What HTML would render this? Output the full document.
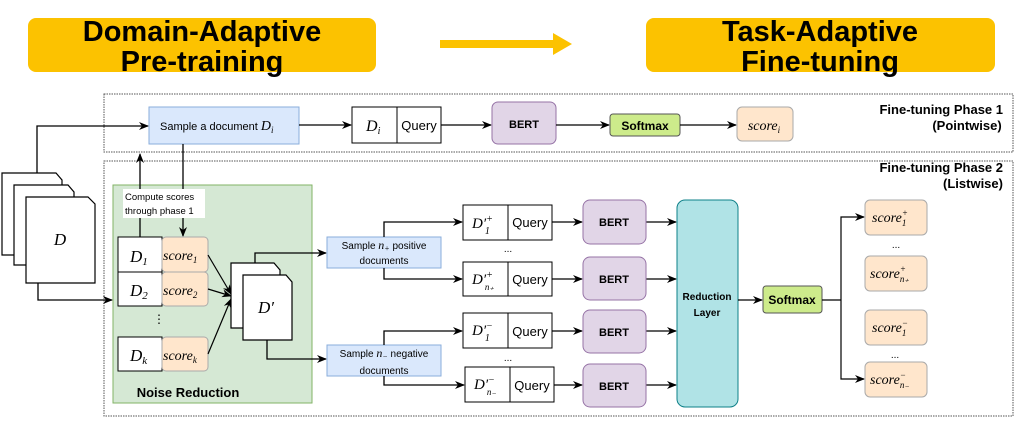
<!DOCTYPE html>
<html><head><meta charset="utf-8"><style>
html,body{margin:0;padding:0;background:#fff;}
svg{display:block;}
.s{font-family:"Liberation Sans",sans-serif;}
.n{font-family:"Liberation Sans Narrow","Liberation Sans",sans-serif;}
.m{font-family:"Liberation Serif",serif;font-style:italic;}
</style></head><body>
<svg width="1016" height="423" viewBox="0 0 1016 423" xmlns="http://www.w3.org/2000/svg">
<defs>
<marker id="a" markerWidth="10" markerHeight="8" refX="9" refY="4" orient="auto" markerUnits="userSpaceOnUse"><path d="M0,0 L10,4 L0,8 L3,4 z" fill="#000"/></marker>
</defs>
<!-- title banners -->
<rect x="28" y="18" width="348" height="54" rx="8" fill="#fcc200"/>
<text x="202" y="41" class="n" font-size="29" font-weight="bold" text-anchor="middle">Domain-Adaptive</text>
<text x="202" y="71" class="n" font-size="29" font-weight="bold" text-anchor="middle">Pre-training</text>
<rect x="646" y="18" width="349" height="54" rx="8" fill="#fcc200"/>
<text x="820" y="41" class="n" font-size="29" font-weight="bold" text-anchor="middle">Task-Adaptive</text>
<text x="820" y="71" class="n" font-size="29" font-weight="bold" text-anchor="middle">Fine-tuning</text>
<path d="M440,40 H553 V33 L572,44 L553,55 V48 H440 z" fill="#fcc200"/>

<!-- phase boxes -->
<rect x="104" y="94" width="909" height="58" fill="none" stroke="#555" stroke-dasharray="1.5,1"/>
<rect x="104" y="161" width="909" height="255" fill="none" stroke="#555" stroke-dasharray="1.5,1"/>
<text x="1003" y="114" class="n" font-size="13" font-weight="bold" text-anchor="end">Fine-tuning Phase 1</text>
<text x="967" y="130" class="n" font-size="13" font-weight="bold" text-anchor="middle">(Pointwise)</text>
<text x="1003" y="172" class="n" font-size="13" font-weight="bold" text-anchor="end">Fine-tuning Phase 2</text>
<text x="973" y="188" class="n" font-size="13" font-weight="bold" text-anchor="middle">(Listwise)</text>

<!-- phase 1 row -->
<rect x="149" y="107" width="150" height="37" fill="#dae8fc" stroke="#8aaedb"/>
<text x="160" y="130" class="s" font-size="11">Sample a document <tspan class="m" font-size="14">D<tspan font-size="9" dy="3">i</tspan></tspan></text>
<line x1="299" y1="125" x2="351" y2="125" stroke="#000" stroke-width="1.3" marker-end="url(#a)"/>
<rect x="352" y="107" width="45" height="36" fill="#fff" stroke="#000"/>
<rect x="397" y="107" width="44" height="36" fill="#fff" stroke="#000"/>
<text x="366" y="131" class="m" font-size="16">D<tspan font-size="10" dy="3">i</tspan></text>
<text x="419" y="130" class="s" font-size="13" text-anchor="middle">Query</text>
<line x1="441" y1="125" x2="491" y2="125" stroke="#000" stroke-width="1.3" marker-end="url(#a)"/>
<rect x="492" y="102" width="64" height="42" rx="6" fill="#e1d5e7" stroke="#9673a6"/>
<text x="524" y="128" class="s" font-size="11" font-weight="bold" text-anchor="middle">BERT</text>
<line x1="556" y1="125" x2="609" y2="125" stroke="#000" stroke-width="1.3" marker-end="url(#a)"/>
<rect x="610" y="114" width="70" height="22" rx="3" fill="#cdeb8b" stroke="#555"/>
<text x="645" y="130" class="s" font-size="12" font-weight="bold" text-anchor="middle">Softmax</text>
<line x1="680" y1="125" x2="736" y2="125" stroke="#000" stroke-width="1.3" marker-end="url(#a)"/>
<rect x="737" y="107" width="56" height="34" rx="5" fill="#ffe6cc" stroke="#aaa"/>
<text x="764" y="130" class="m" font-size="14" text-anchor="middle">score<tspan font-size="9" dy="3">i</tspan></text>

<!-- noise reduction -->
<rect x="113" y="185" width="199" height="218" fill="#d5e8d4" stroke="#82b366"/>
<text x="188" y="397" class="s" font-size="13" font-weight="bold" text-anchor="middle">Noise Reduction</text>

<!-- D stack -->
<g fill="#fff" stroke="#000" stroke-width="1.2">
<path d="M2,173 H56 L62,180 V255 H2 z"/>
<path d="M14,185 H68 L74,192 V265 H14 z"/>
<path d="M26,197 H88 L95,204 V283 H26 z"/>
</g>
<text x="60" y="245" class="m" font-size="17" text-anchor="middle">D</text>
<polyline points="37,173 37,126 148,126" fill="none" stroke="#000" stroke-width="1.3" marker-end="url(#a)"/>
<polyline points="38,283 38,300 112,300" fill="none" stroke="#000" stroke-width="1.3" marker-end="url(#a)"/>
<line x1="140" y1="237" x2="140" y2="154" stroke="#000" stroke-width="1.3" marker-end="url(#a)"/>
<line x1="183" y1="144" x2="183" y2="236" stroke="#000" stroke-width="1.3" marker-end="url(#a)"/>
<rect x="123" y="189" width="82" height="29" fill="#fff"/>
<text x="125" y="200" class="s" font-size="9.5">Compute scores</text>
<text x="125" y="214" class="s" font-size="9.5">through phase 1</text>

<g stroke="#000" stroke-width="1">
<rect x="118" y="237" width="44" height="35" fill="#fff"/>
<rect x="118" y="272" width="44" height="34" fill="#fff"/>
<rect x="118" y="337" width="44" height="34" fill="#fff"/>
</g>
<g fill="#ffe6cc" stroke="#aaa">
<rect x="162" y="237" width="46" height="35" rx="4"/>
<rect x="162" y="272" width="46" height="34" rx="4"/>
<rect x="162" y="337" width="46" height="34" rx="4"/>
</g>
<text x="130" y="262" class="m" font-size="17">D<tspan font-size="11" dy="3">1</tspan></text>
<text x="130" y="296" class="m" font-size="17">D<tspan font-size="11" dy="3">2</tspan></text>
<text x="130" y="361" class="m" font-size="17">D<tspan font-size="11" dy="3">k</tspan></text>
<text x="163" y="260" class="m" font-size="14">score<tspan font-size="9" dy="3">1</tspan></text>
<text x="163" y="295" class="m" font-size="14">score<tspan font-size="9" dy="3">2</tspan></text>
<text x="163" y="360" class="m" font-size="14">score<tspan font-size="9" dy="3">k</tspan></text>
<text x="159" y="323" class="s" font-size="12" text-anchor="middle">⋮</text>
<g stroke="#000" stroke-width="1.2" marker-end="url(#a)">
<line x1="208" y1="255" x2="231" y2="294"/>
<line x1="208" y1="289" x2="231" y2="296"/>
<line x1="208" y1="354" x2="231" y2="299"/>
</g>
<g fill="#fff" stroke="#000" stroke-width="1.2">
<path d="M231,263 H274 L280,270 V328 H231 z"/>
<path d="M243,275 H286 L292,282 V340 H243 z"/>
</g>
<text x="266" y="313" class="m" font-size="17" text-anchor="middle">D′</text>
<polyline points="255,263 255,253 326,253" fill="none" stroke="#000" stroke-width="1.3" marker-end="url(#a)"/>
<polyline points="267,340 267,359 326,359" fill="none" stroke="#000" stroke-width="1.3" marker-end="url(#a)"/>

<!-- sample boxes -->
<rect x="327" y="237" width="114" height="31" fill="#dae8fc" stroke="#8aaedb"/>
<text x="384" y="249" class="s" font-size="10" text-anchor="middle">Sample <tspan class="m" font-size="12">n<tspan font-size="8" dy="2">+</tspan></tspan><tspan dy="-2"> positive</tspan></text>
<text x="384" y="264" class="s" font-size="10" text-anchor="middle">documents</text>
<rect x="327" y="345" width="114" height="31" fill="#dae8fc" stroke="#8aaedb"/>
<text x="384" y="357" class="s" font-size="10" text-anchor="middle">Sample <tspan class="m" font-size="12">n<tspan font-size="8" dy="2">−</tspan></tspan><tspan dy="-2"> negative</tspan></text>
<text x="384" y="374" class="s" font-size="10" text-anchor="middle">documents</text>
<g fill="none" stroke="#000" stroke-width="1.3" marker-end="url(#a)">
<polyline points="384,237 384,222 462,222"/>
<polyline points="384,268 384,279 462,279"/>
<polyline points="384,345 384,331 462,331"/>
<polyline points="384,376 384,385 464,385"/>
</g>

<!-- doc/query pairs -->
<g stroke="#000" fill="#fff">
<rect x="463" y="205" width="45" height="35"/><rect x="508" y="205" width="44" height="35"/>
<rect x="463" y="262" width="45" height="34"/><rect x="508" y="262" width="44" height="34"/>
<rect x="463" y="313" width="45" height="35"/><rect x="508" y="313" width="44" height="35"/>
<rect x="465" y="367" width="45" height="35"/><rect x="510" y="367" width="44" height="35"/>
</g>
<text x="472" y="228" class="m" font-size="15">D′<tspan font-size="10" dy="-6">+</tspan><tspan font-size="10" dx="-8" dy="12">1</tspan></text>
<text x="472" y="284" class="m" font-size="15">D′<tspan font-size="10" dy="-6">+</tspan><tspan font-size="9" dx="-8" dy="12">n₊</tspan></text>
<text x="472" y="335" class="m" font-size="15">D′<tspan font-size="10" dy="-6">−</tspan><tspan font-size="10" dx="-8" dy="12">1</tspan></text>
<text x="474" y="389" class="m" font-size="15">D′<tspan font-size="10" dy="-6">−</tspan><tspan font-size="9" dx="-8" dy="12">n₋</tspan></text>
<g class="s" font-size="13" text-anchor="middle">
<text x="530" y="227">Query</text><text x="530" y="284">Query</text>
<text x="530" y="336">Query</text><text x="532" y="390">Query</text>
</g>
<text x="508" y="252" class="s" font-size="10" text-anchor="middle">...</text>
<text x="508" y="361" class="s" font-size="10" text-anchor="middle">...</text>
<g stroke="#000" stroke-width="1.3" marker-end="url(#a)">
<line x1="552" y1="222" x2="582" y2="222"/><line x1="552" y1="279" x2="582" y2="279"/>
<line x1="552" y1="331" x2="582" y2="331"/><line x1="554" y1="385" x2="582" y2="385"/>
<line x1="646" y1="222" x2="676" y2="222"/><line x1="646" y1="279" x2="676" y2="279"/>
<line x1="646" y1="331" x2="676" y2="331"/><line x1="646" y1="385" x2="676" y2="385"/>
</g>
<g fill="#e1d5e7" stroke="#9673a6">
<rect x="583" y="200" width="63" height="44" rx="7"/><rect x="583" y="257" width="63" height="43" rx="7"/>
<rect x="583" y="310" width="63" height="43" rx="7"/><rect x="583" y="364" width="63" height="43" rx="7"/>
</g>
<g class="s" font-size="11" font-weight="bold" text-anchor="middle">
<text x="614" y="226">BERT</text><text x="614" y="283">BERT</text>
<text x="614" y="336">BERT</text><text x="614" y="390">BERT</text>
</g>

<!-- reduction layer -->
<rect x="677" y="200" width="61" height="207" rx="8" fill="#b0e3e6" stroke="#0e8088"/>
<text x="707" y="300" class="s" font-size="10" font-weight="bold" text-anchor="middle">Reduction</text>
<text x="707" y="316" class="s" font-size="10" font-weight="bold" text-anchor="middle">Layer</text>
<line x1="738" y1="300" x2="762" y2="300" stroke="#000" stroke-width="1.3" marker-end="url(#a)"/>
<rect x="763" y="286" width="59" height="27" rx="3" fill="#cdeb8b" stroke="#555"/>
<text x="792" y="304" class="s" font-size="12" font-weight="bold" text-anchor="middle">Softmax</text>
<line x1="822" y1="300" x2="841" y2="300" stroke="#000" stroke-width="1.2"/>
<polyline points="841,300 841,217 864,217" fill="none" stroke="#000" stroke-width="1.2" marker-end="url(#a)"/>
<polyline points="841,300 841,379 864,379" fill="none" stroke="#000" stroke-width="1.2" marker-end="url(#a)"/>
<g fill="#ffe6cc" stroke="#aaa">
<rect x="865" y="200" width="62" height="35" rx="5"/><rect x="865" y="256" width="62" height="35" rx="5"/>
<rect x="865" y="310" width="62" height="35" rx="5"/><rect x="865" y="362" width="62" height="35" rx="5"/>
</g>
<g class="m" font-size="14">
<text x="872" y="222">score<tspan font-size="9" dy="-6">+</tspan><tspan font-size="9" dx="-6" dy="10">1</tspan></text>
<text x="870" y="278">score<tspan font-size="9" dy="-6">+</tspan><tspan font-size="9" dx="-6" dy="10">n₊</tspan></text>
<text x="872" y="332">score<tspan font-size="9" dy="-6">−</tspan><tspan font-size="9" dx="-6" dy="10">1</tspan></text>
<text x="870" y="384">score<tspan font-size="9" dy="-6">−</tspan><tspan font-size="9" dx="-6" dy="10">n₋</tspan></text>
</g>
<text x="896" y="248" class="s" font-size="10" text-anchor="middle">...</text>
<text x="895" y="358" class="s" font-size="10" text-anchor="middle">...</text>
</svg>
</body></html>
